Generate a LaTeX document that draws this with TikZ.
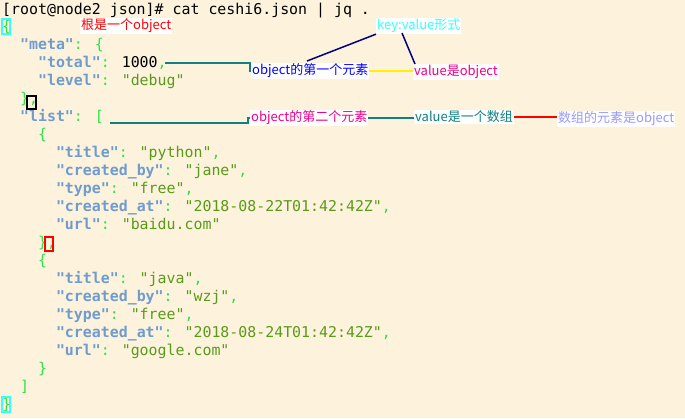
\documentclass[tikz,border=0pt]{standalone}
\usepackage{fontspec}
\newfontfamily\mono{DejaVu Sans Mono}
\newfontfamily\cjk{Noto Sans CJK SC}
\definecolor{bg}{HTML}{FDF3DC}
\definecolor{kc}{HTML}{6F9BCF}
\definecolor{sc}{HTML}{5A9A1A}
\definecolor{pc}{HTML}{2FE04A}
\definecolor{tl}{HTML}{108080}
\definecolor{nv}{HTML}{000080}
\definecolor{cy}{HTML}{33FFFF}
\definecolor{lb}{HTML}{9999FF}
\newcommand{\K}[1]{\textcolor{kc}{\bfseries"#1"}}
\newcommand{\Sv}[1]{\textcolor{sc}{"#1"}}
\newcommand{\Pp}[1]{\textcolor{pc}{#1}}
\begin{document}
\begin{tikzpicture}[x=1pt,y=-1pt,
  ln/.style={anchor=base west,inner sep=0pt,font=\mono\fontsize{14.9}{18}\selectfont},
  ann/.style={fill=white,inner sep=1pt,font=\cjk\fontsize{13}{15}\selectfont},
  ink/.style={line width=1.5pt}]
\fill[bg] (0,0) rectangle (685,418);
\useasboundingbox (0,0) rectangle (685,418);
\node[ln] (l0) at (2,14) {[root@node2 json]\# cat ceshi6.json | jq .};
\node[ln] (l1) at (2,31) {\Pp{\{}};
\node[ln] (l2) at (2,49) {\ \ \K{meta}\Pp{: \{}};
\node[ln] (l3) at (2,67) {\ \ \ \ \K{total}\Pp{:} 1000\Pp{,}};
\node[ln] (l4) at (2,85) {\ \ \ \ \K{level}\Pp{:} \Sv{debug}};
\node[ln] (l5) at (2,103) {\ \ \Pp{\},}};
\node[ln] (l6) at (2,121) {\ \ \K{list}\Pp{: [}};
\node[ln] (l7) at (2,139) {\ \ \ \ \Pp{\{}};
\node[ln] (l8) at (2,157) {\ \ \ \ \ \ \K{title}\Pp{:} \Sv{python}\Pp{,}};
\node[ln] (l9) at (2,175) {\ \ \ \ \ \ \K{created\_by}\Pp{:} \Sv{jane}\Pp{,}};
\node[ln] (l10) at (2,193) {\ \ \ \ \ \ \K{type}\Pp{:} \Sv{free}\Pp{,}};
\node[ln] (l11) at (2,211) {\ \ \ \ \ \ \K{created\_at}\Pp{:} \Sv{2018-08-22T01:42:42Z}\Pp{,}};
\node[ln] (l12) at (2,229) {\ \ \ \ \ \ \K{url}\Pp{:} \Sv{baidu.com}};
\node[ln] (l13) at (2,247) {\ \ \ \ \Pp{\},}};
\node[ln] (l14) at (2,265) {\ \ \ \ \Pp{\{}};
\node[ln] (l15) at (2,283) {\ \ \ \ \ \ \K{title}\Pp{:} \Sv{java}\Pp{,}};
\node[ln] (l16) at (2,301) {\ \ \ \ \ \ \K{created\_by}\Pp{:} \Sv{wzj}\Pp{,}};
\node[ln] (l17) at (2,319) {\ \ \ \ \ \ \K{type}\Pp{:} \Sv{free}\Pp{,}};
\node[ln] (l18) at (2,337) {\ \ \ \ \ \ \K{created\_at}\Pp{:} \Sv{2018-08-24T01:42:42Z}\Pp{,}};
\node[ln] (l19) at (2,355) {\ \ \ \ \ \ \K{url}\Pp{:} \Sv{google.com}};
\node[ln] (l20) at (2,373) {\ \ \ \ \Pp{\}}};
\node[ln] (l21) at (2,391) {\ \ \Pp{]}};
\node[ln] (l22) at (2,409) {\Pp{\}}};
% boxes
\draw[cy,line width=1.3pt] (2,19) rectangle (10,34);
\draw[black,line width=1.3pt] (27,96) rectangle (36,109);
\draw[red,line width=1.3pt] (45,237) rectangle (53,251);
\draw[cy,line width=1.3pt] (2,397) rectangle (10,412);
% annotations
\node[ann,text=red,anchor=west] (a0) at (80,26) {根是一个object};
\node[ann,text=cy,anchor=west] (a1) at (376,26) {key:value形式};
\node[ann,text=blue,anchor=west] (a2) at (251,71) {object的第一个元素};
\node[ann,text=magenta,anchor=west] (a3) at (413,72) {value是object};
\node[ann,text=magenta,anchor=west] (a4) at (250,118) {object的第二个元素};
\node[ann,text=tl,anchor=west] (a5) at (414,117) {value是一个数组};
\node[ann,text=lb,anchor=west] (a6) at (557,119) {数组的元素是object};
\coordinate (c1) at (165,63);
\coordinate (c2) at (110,123);
\draw[tl,ink] (c1) -- (250,63) |- (a2.west);
\draw[tl,ink] (c2) -- (248,123) |- (a4.west);
\draw[nv,ink] (307,61) -- (a1.south west);
\draw[nv,ink] (402,33) -- (415,64);
\draw[yellow,ink] (a2.east) -- (a2.east -| a3.west);
\draw[tl,ink] (a4.east) -- (a4.east -| a5.west);
\draw[red,ink] (a5.east) -- (a5.east -| a6.west);
\end{tikzpicture}
\end{document}
